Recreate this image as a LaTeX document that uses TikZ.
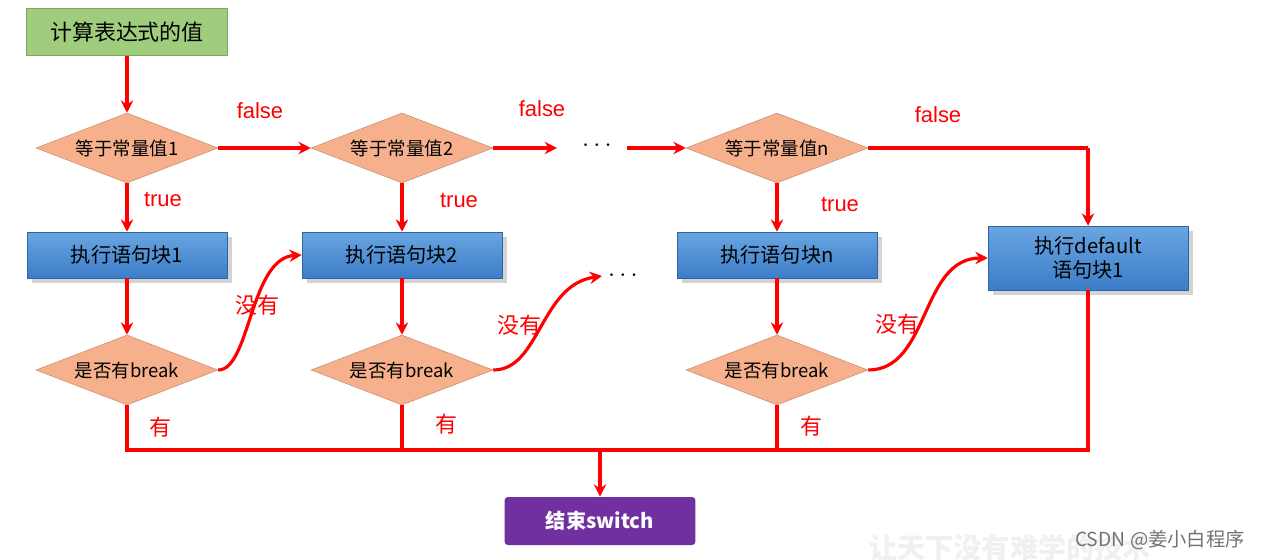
\documentclass[tikz,border=0pt]{standalone}
\usepackage{fontspec}
\setmainfont{Liberation Sans}
\newfontfamily\cjk{Noto Sans CJK SC}
\usetikzlibrary{shapes.geometric,arrows.meta,shadows}
\definecolor{arr}{RGB}{255,0,0}
\definecolor{dia}{RGB}{246,176,140}
\definecolor{bluetop}{RGB}{105,165,225}
\definecolor{bluebot}{RGB}{60,125,200}
\definecolor{grn}{RGB}{160,205,125}
\definecolor{purp}{RGB}{112,48,160}
\tikzset{
 px/.style={x=0.02cm,y=-0.02cm},
 dec/.style={diamond,aspect=2.6,fill=dia,draw=dia!80!black,line width=0.3pt,minimum width=3.64cm,minimum height=1.4cm,inner sep=0pt,font=\cjk\fontsize{10.5}{12}\selectfont},
 act/.style={rectangle,top color=bluetop,bottom color=bluebot,draw=bluebot!80!black,line width=0.3pt,drop shadow={opacity=0.35},minimum width=4cm,minimum height=0.92cm,font=\cjk\fontsize{11.5}{13.5}\selectfont,align=center},
 flow/.style={draw=arr,line width=1.8pt,-{Stealth[length=7pt,width=7pt]}},
 line/.style={draw=arr,line width=1.8pt},
 lab/.style={text=arr,font=\fontsize{12.5}{14}\selectfont},
 clab/.style={text=arr,font=\cjk\fontsize{12.5}{14}\selectfont},
}
\begin{document}
\begin{tikzpicture}[px]
\useasboundingbox (0,0) rectangle (1261,559);
\node[rectangle,fill=grn,draw=grn!80!black,minimum width=4.02cm,minimum height=0.94cm,font=\cjk\fontsize{12.5}{14}\selectfont] (start) at (127,32) {计算表达式的值};
\node[dec] (d1) at (127,148) {等于常量值1};
\node[dec] (d2) at (402,148) {等于常量值2};
\node[dec] (dn) at (777,148) {等于常量值n};
\node (dots1) at (597,146) {\fontsize{14}{14}\selectfont$\cdots$};
\node[act] (b1) at (127,255) {执行语句块1};
\node[act] (b2) at (402,255) {执行语句块2};
\node[act] (bn) at (777,255) {执行语句块n};
\node[act,minimum height=1.28cm] (bd) at (1088,258) {执行default\\语句块1};
\node (dots2) at (623,276) {\fontsize{14}{14}\selectfont$\cdots$};
\node[dec] (k1) at (127,370) {是否有break};
\node[dec] (k2) at (402,370) {是否有break};
\node[dec] (kn) at (777,370) {是否有break};
\node[rectangle,rounded corners=2pt,fill=purp,minimum width=3.82cm,minimum height=0.96cm,text=white,font=\cjk\bfseries\fontsize{11.5}{13}\selectfont] (end) at (600,521) {结束switch};
\coordinate (cr) at (1088,148);
\coordinate (j1) at (127,450);
\coordinate (j2) at (402,450);
\coordinate (jn) at (777,450);
\coordinate (jd) at (1088,450);
\coordinate (jm) at (600,450);
\coordinate (da) at (557,148);
\coordinate (db) at (627,148);
\draw[flow] (start) -- (d1);
\draw[flow] (d1) -- (d2);
\draw[flow] (d2) -- (da);
\draw[flow] (db) -- (dn);
\draw[line] (dn.east) -- (cr);
\draw[flow] (cr) -- (bd.north);
\foreach \d/\b/\k in {d1/b1/k1,d2/b2/k2,dn/bn/kn}{
 \draw[flow] (\d) -- (\b);
 \draw[flow] (\b) -- (\k);
}
\draw[flow] (k1.east) .. controls (250,370) and (250,258) .. (b2.west);
\draw[flow] (k2.east) .. controls (540,370) and (540,285) .. (dots2.west);
\draw[flow] (kn.east) .. controls (930,370) and (920,258) .. (bd.west);
\draw[line] (k1.south) -- (j1) -- (jd) -- (bd.south);
\draw[line] (k2.south) -- (j2);
\draw[line] (kn.south) -- (jn);
\draw[flow] (jm) -- (end);
\node[lab] at (260,111) {false};
\node[lab] at (542,109) {false};
\node[lab] at (938,115) {false};
\node[lab] at (163,199) {true};
\node[lab] at (459,200) {true};
\node[lab] at (840,204) {true};
\node[clab] at (257,305) {没有};
\node[clab] at (519,325) {没有};
\node[clab] at (897,324) {没有};
\node[clab] at (160,427) {有};
\node[clab] at (446,424) {有};
\node[clab] at (811,426) {有};
\node[text=black!6,font=\cjk\bfseries\fontsize{16}{16}\selectfont] at (1010,548) {让天下没有难学的技术};
\node[text=black!55,font=\cjk\fontsize{11}{13}\selectfont] at (1160,540) {CSDN @姜小白程序};
\end{tikzpicture}
\end{document}
